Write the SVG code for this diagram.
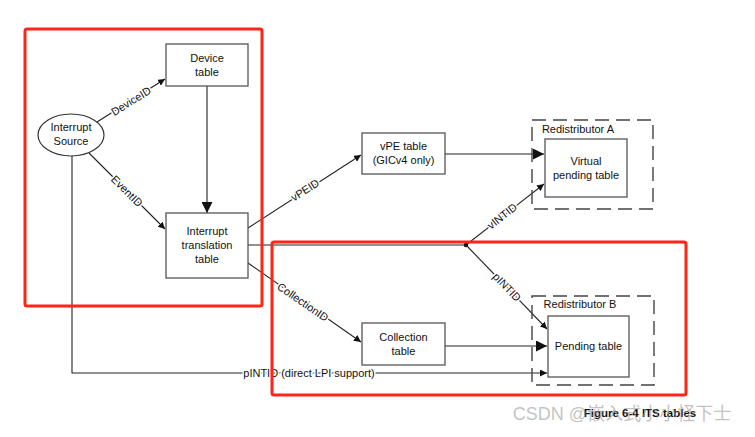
<svg xmlns="http://www.w3.org/2000/svg" width="755" height="437" viewBox="0 0 755 437">
<defs>
<marker id="a" viewBox="0 0 10 10" refX="10" refY="5" markerWidth="7" markerHeight="7" markerUnits="userSpaceOnUse" orient="auto"><path d="M0,0 L10,5 L0,10 z" fill="#111"/></marker>
<marker id="b" viewBox="0 0 10 10" refX="10" refY="5" markerWidth="11" markerHeight="11" markerUnits="userSpaceOnUse" orient="auto"><path d="M0,0 L10,5 L0,10 z" fill="#111"/></marker>
</defs>
<style>
.box{fill:#fff;stroke:#555;stroke-width:1.3}
.dash{fill:none;stroke:#444;stroke-width:1.4;stroke-dasharray:14 7}
.ln{fill:none;stroke:#222;stroke-width:1.1}
.t{font-family:"Liberation Sans",Arial,sans-serif;font-size:11px;fill:#111;text-anchor:middle}
.lb{font-family:"Liberation Sans",Arial,sans-serif;font-size:11px;fill:#111;text-anchor:middle;stroke:#fff;stroke-width:3;paint-order:stroke}
.red{fill:none;stroke:#ff2418;stroke-width:3}
</style>
<rect width="755" height="437" fill="#fff"/>
<g id="connectors">
<line class="ln" x1="97" y1="122" x2="165" y2="79" marker-end="url(#a)"/>
<line class="ln" x1="89" y1="153" x2="165" y2="229" marker-end="url(#a)"/>
<line class="ln" x1="207" y1="86" x2="207" y2="213" stroke-width="1.5" marker-end="url(#b)"/>
<line class="ln" x1="248" y1="228" x2="361" y2="155" marker-end="url(#a)"/>
<line class="ln" x1="445" y1="154" x2="544" y2="154" marker-end="url(#b)"/>
<line class="ln" x1="248" y1="245" x2="466" y2="245" stroke="#666" stroke-width="1.6"/>
<circle cx="466" cy="245" r="2.3" fill="#111"/>
<line class="ln" x1="466" y1="245" x2="544" y2="184" marker-end="url(#a)"/>
<line class="ln" x1="466" y1="245" x2="547" y2="329" marker-end="url(#a)"/>
<line class="ln" x1="248" y1="263" x2="361" y2="342" marker-end="url(#a)"/>
<line class="ln" x1="445" y1="346" x2="547" y2="346" marker-end="url(#b)"/>
<polyline class="ln" points="72,156 72,373 547,373" marker-end="url(#a)"/>
<text class="lb" transform="translate(131,101) rotate(-32)" dy="4">DeviceID</text>
<text class="lb" transform="translate(127,191) rotate(45)" dy="4">EventID</text>
<text class="lb" transform="translate(305,190) rotate(-33)" dy="4">vPEID</text>
<text class="lb" transform="translate(303,302) rotate(34.5)" dy="4">CollectionID</text>
<text class="lb" transform="translate(502,216) rotate(-38.5)" dy="4">vINTID</text>
<text class="lb" transform="translate(507,287) rotate(46)" dy="4">pINTID</text>
<text class="lb" x="309" y="377">pINTID (direct LPI support)</text>
</g>
<g id="interrupt-source">
<ellipse cx="71" cy="135" rx="33" ry="21" fill="#fff" stroke="#333" stroke-width="1.2"/>
<text class="t" x="71" y="131">Interrupt</text>
<text class="t" x="71" y="145">Source</text>
</g>
<g id="device-table">
<rect class="box" x="166" y="44" width="82" height="42"/>
<text class="t" x="207" y="62">Device</text>
<text class="t" x="207" y="76">table</text>
</g>
<g id="itt">
<rect class="box" x="166" y="213" width="82" height="65"/>
<text class="t" x="207" y="235">Interrupt</text>
<text class="t" x="207" y="249">translation</text>
<text class="t" x="207" y="263">table</text>
</g>
<g id="vpe-table">
<rect class="box" x="362" y="133" width="83" height="41"/>
<text class="t" x="403.5" y="150">vPE table</text>
<text class="t" x="403.5" y="164">(GICv4 only)</text>
</g>
<g id="redistributor-a">
<rect class="dash" x="532" y="120" width="121" height="89"/>
<rect x="537" y="124" width="86" height="12" fill="#fff"/>
<text class="t" x="578" y="133">Redistributor A</text>
<rect class="box" x="545" y="139" width="82" height="58"/>
<text class="t" x="586" y="165">Virtual</text>
<text class="t" x="586" y="179">pending table</text>
</g>
<g id="collection-table">
<rect class="box" x="362" y="323" width="83" height="42"/>
<text class="t" x="403.5" y="341">Collection</text>
<text class="t" x="403.5" y="355">table</text>
</g>
<g id="redistributor-b">
<rect class="dash" x="532" y="296" width="122" height="89"/>
<rect x="537" y="300" width="88" height="12" fill="#fff"/>
<text class="t" x="580" y="308">Redistributor B</text>
<rect class="box" x="548" y="316" width="81" height="61"/>
<text class="t" x="588.5" y="350">Pending table</text>
</g>
<g id="highlights">
<rect class="red" x="25" y="29" width="237" height="277" rx="2"/>
<rect class="red" x="272" y="242" width="414" height="153" rx="2"/>
</g>
<g id="caption">
<text x="640" y="417" font-family="'Liberation Sans',Arial,sans-serif" font-size="11.5" font-weight="bold" text-anchor="middle" fill="#111">Figure 6-4 ITS tables</text>
<text x="622" y="420" font-family="'Liberation Sans','Noto Sans CJK SC',sans-serif" font-size="18" text-anchor="middle" fill="#999" fill-opacity="0.6">CSDN @嵌入式小小怪下士</text>
</g>
</svg>
